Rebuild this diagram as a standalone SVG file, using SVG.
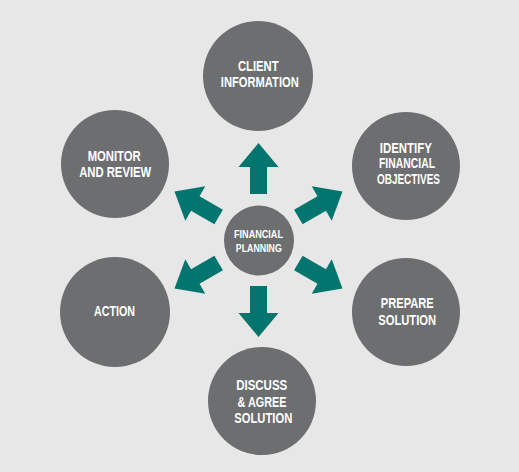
<svg xmlns="http://www.w3.org/2000/svg" width="519" height="472" viewBox="0 0 519 472">
  <defs>
    <style>
      .bg { fill: #e6e7e6; }
      .node { fill: #6d6e70; }
      .lbl { fill: #ffffff; font-family: "Liberation Sans", Arial, sans-serif; font-weight: bold; font-size: 14px; text-anchor: middle; }
      .small { font-size: 11.5px; }
      .arrow { fill: #03756f; }
    </style>
    <path id="arr" d="M46,-8.5 L73,-8.5 L73,-20 L97,0 L73,20 L73,8.5 L46,8.5 Z"/>
  </defs>
  <rect class="bg" x="0" y="0" width="519" height="472"/>

  <g id="connectors" class="arrow">
    <use href="#arr" transform="translate(258.5,240) rotate(-90)"/>
    <use href="#arr" transform="translate(258.5,240) rotate(-30)"/>
    <use href="#arr" transform="translate(258.5,240) rotate(30)"/>
    <use href="#arr" transform="translate(258.5,240) rotate(90)"/>
    <use href="#arr" transform="translate(258.5,240) rotate(150)"/>
    <use href="#arr" transform="translate(258.5,240) rotate(210)"/>
  </g>

  <g id="node-center">
    <circle class="node" cx="259" cy="240.5" r="35"/>
    <text class="lbl small" x="258.5" y="238" textLength="49" lengthAdjust="spacingAndGlyphs">FINANCIAL</text>
    <text class="lbl small" x="258.8" y="251.7" textLength="46" lengthAdjust="spacingAndGlyphs">PLANNING</text>
  </g>

  <g id="node-client">
    <circle class="node" cx="258" cy="76" r="55"/>
    <text class="lbl" x="258.3" y="70.7" textLength="40.7" lengthAdjust="spacingAndGlyphs">CLIENT</text>
    <text class="lbl" x="259.8" y="86.7" textLength="78" lengthAdjust="spacingAndGlyphs">INFORMATION</text>
  </g>

  <g id="node-identify">
    <circle class="node" cx="406" cy="166" r="54"/>
    <text class="lbl" x="405.8" y="152.7" textLength="52" lengthAdjust="spacingAndGlyphs">IDENTIFY</text>
    <text class="lbl" x="407" y="168" textLength="56" lengthAdjust="spacingAndGlyphs">FINANCIAL</text>
    <text class="lbl" x="408.5" y="184" textLength="63" lengthAdjust="spacingAndGlyphs">OBJECTIVES</text>
  </g>

  <g id="node-prepare">
    <circle class="node" cx="406" cy="312" r="54"/>
    <text class="lbl" x="407.3" y="308.3" textLength="53" lengthAdjust="spacingAndGlyphs">PREPARE</text>
    <text class="lbl" x="407.2" y="325" textLength="58" lengthAdjust="spacingAndGlyphs">SOLUTION</text>
  </g>

  <g id="node-discuss">
    <circle class="node" cx="262" cy="401" r="54"/>
    <text class="lbl" x="261.7" y="390" textLength="51" lengthAdjust="spacingAndGlyphs">DISCUSS</text>
    <text class="lbl" x="262" y="406.7" textLength="49" lengthAdjust="spacingAndGlyphs">&amp; AGREE</text>
    <text class="lbl" x="263.3" y="423.3" textLength="58" lengthAdjust="spacingAndGlyphs">SOLUTION</text>
  </g>

  <g id="node-action">
    <circle class="node" cx="115" cy="312" r="55"/>
    <text class="lbl" x="114.5" y="315.7" textLength="41" lengthAdjust="spacingAndGlyphs">ACTION</text>
  </g>

  <g id="node-monitor">
    <circle class="node" cx="115" cy="164" r="54"/>
    <text class="lbl" x="114.2" y="160.7" textLength="53" lengthAdjust="spacingAndGlyphs">MONITOR</text>
    <text class="lbl" x="115.2" y="176.7" textLength="72" lengthAdjust="spacingAndGlyphs">AND REVIEW</text>
  </g>
</svg>
